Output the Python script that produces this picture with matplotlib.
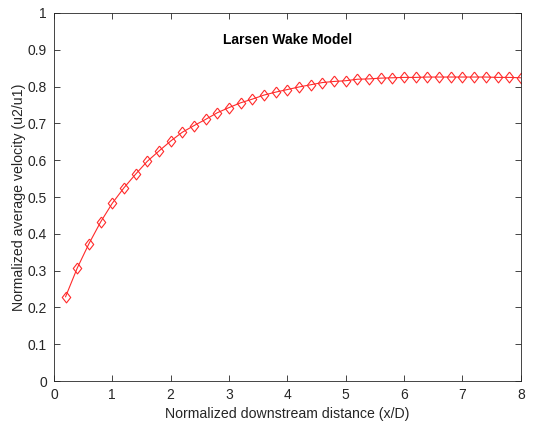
import matplotlib
matplotlib.use('Agg')
import matplotlib.pyplot as plt

plt.rcParams.update({"font.family": "sans-serif", "font.sans-serif": ["Liberation Sans", "DejaVu Sans"]})

# normalized downstream distance (x/D)
dist = [0.2, 0.4, 0.6, 0.8, 1.0, 1.2, 1.4, 1.6, 1.8, 2.0,
        2.2, 2.4, 2.6, 2.8, 3.0, 3.2, 3.4, 3.6, 3.8, 4.0,
        4.2, 4.4, 4.6, 4.8, 5.0, 5.2, 5.4, 5.6, 5.8, 6.0,
        6.2, 6.4, 6.6, 6.8, 7.0, 7.2, 7.4, 7.6, 7.8, 8.0]
# normalized average velocity (u2/u1)
vel = [0.229, 0.307, 0.373, 0.432, 0.483, 0.525, 0.562, 0.597, 0.625, 0.652,
       0.676, 0.694, 0.711, 0.729, 0.743, 0.756, 0.766, 0.777, 0.785, 0.792,
       0.799, 0.805, 0.811, 0.814, 0.816, 0.820, 0.821, 0.823, 0.824, 0.825,
       0.825, 0.826, 0.826, 0.826, 0.826, 0.826, 0.826, 0.825, 0.825, 0.824]

xticks = [0, 1, 2, 3, 4, 5, 6, 7, 8]
yticks = [0, 0.1, 0.2, 0.3, 0.4, 0.5, 0.6, 0.7, 0.8, 0.9, 1]
yticklabels = ['0', '0.1', '0.2', '0.3', '0.4', '0.5', '0.6', '0.7', '0.8', '0.9', '1']

grey = '#262626'
diamond = [(0, 1), (0.78, 0), (0, -1), (-0.78, 0), (0, 1)]

fig = plt.figure(figsize=(5.5, 4.33), dpi=100)
ax = fig.add_axes([0.098, 0.12, 0.849, 0.85])

ax.plot(dist, vel, color='#ff2a2a', linewidth=0.8, marker=diamond, markersize=7.8,
        markerfacecolor='none', markeredgecolor='#ff2a2a', markeredgewidth=0.8)

ax.text(4, 0.927, 'Larsen Wake Model', ha='center', va='center',
        fontsize=10, fontweight='bold', color='black')

ax.set_xlim(0, 8)
ax.set_ylim(0, 1)
ax.set_xticks(xticks)
ax.set_yticks(yticks)
ax.set_yticklabels(yticklabels)
ax.tick_params(axis='both', direction='in', length=4, width=0.6, colors=grey,
               labelsize=10, top=True, right=True, pad=5)
for s in ax.spines.values():
    s.set_color(grey)
    s.set_linewidth(0.6)

ax.set_xlabel('Normalized downstream distance (x/D)', fontsize=10.2, color=grey, labelpad=3.5)
ax.set_ylabel('Normalized average velocity (u2/u1)', fontsize=10.2, color=grey, labelpad=1)

fig.savefig('out.png', dpi=100)
